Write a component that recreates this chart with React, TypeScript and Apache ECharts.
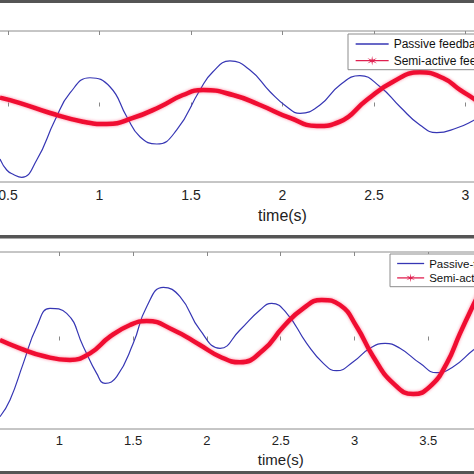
import React, { useEffect, useRef } from "react";
import * as echarts from "echarts";

// Top panel (time in s, response in normalised units)
const topPassiveT = [0.456, 0.493, 0.53, 0.575, 0.657, 0.757, 0.839, 0.948, 1.057, 1.149, 1.221, 1.313, 1.422, 1.549, 1.62, 1.713, 1.822, 1.932, 2.023, 2.096, 2.205, 2.314, 2.423, 2.533, 2.642, 2.751, 2.843, 2.952, 3.041, 3.1];
const topPassiveV = [-0.695, -0.841, -0.9, -0.938, -0.709, -0.179, 0.179, 0.381, 0.262, -0.135, -0.4, -0.497, -0.311, 0.219, 0.461, 0.603, 0.483, 0.196, -0.003, -0.09, 0.02, 0.285, 0.408, 0.262, -0.003, -0.245, -0.347, -0.285, -0.188, -0.1];
const topSemiT = [0.456, 0.566, 0.73, 0.91, 1.039, 1.183, 1.331, 1.456, 1.566, 1.73, 1.877, 2.041, 2.187, 2.314, 2.46, 2.604, 2.751, 2.877, 2.97, 3.041, 3.1];
const topSemiV = [0.117, 0.046, -0.086, -0.201, -0.232, -0.152, -0.003, 0.152, 0.219, 0.152, 0.02, -0.152, -0.258, -0.201, 0.086, 0.328, 0.453, 0.377, 0.219, 0.109, 0.0];

// Bottom panel
const botPassiveT = [0.598, 0.666, 0.756, 0.847, 0.937, 1.05, 1.163, 1.253, 1.31, 1.389, 1.501, 1.592, 1.705, 1.818, 1.953, 2.089, 2.224, 2.36, 2.439, 2.541, 2.676, 2.789, 2.879, 2.992, 3.105, 3.207, 3.308, 3.444, 3.557, 3.669, 3.805, 3.9];
const botPassiveV = [-0.861, -0.672, -0.258, 0.156, 0.364, 0.307, -0.07, -0.371, -0.484, -0.409, -0.032, 0.382, 0.601, 0.495, 0.119, -0.088, 0.119, 0.345, 0.42, 0.307, -0.032, -0.258, -0.341, -0.24, -0.088, -0.032, -0.088, -0.258, -0.364, -0.296, -0.107, 0.0];
const botSemiT = [0.598, 0.734, 0.892, 1.072, 1.208, 1.343, 1.479, 1.592, 1.772, 1.953, 2.089, 2.224, 2.382, 2.518, 2.653, 2.778, 2.902, 3.015, 3.127, 3.263, 3.398, 3.511, 3.625, 3.715, 3.805, 3.85];
const botSemiV = [0.006, -0.088, -0.175, -0.22, -0.145, 0.043, 0.175, 0.22, 0.119, -0.051, -0.183, -0.246, -0.107, 0.156, 0.364, 0.458, 0.401, 0.156, -0.183, -0.484, -0.605, -0.522, -0.258, 0.081, 0.401, 0.55];

const topLegendNames = ["Passive feedback", "Semi-active feedback"];
const botLegendNames = ["Passive-feedback", "Semi-active-feedback"];
const xLabel = "time(s)";

const pairs = (t: number[], v: number[]) => t.map((x, i) => [x, v[i]]);

const STAR =
  "path://M5,0 L5.6,3.9 L9.3,2.2 L6.3,5 L9.3,7.8 L5.6,6.1 L5,10 L4.4,6.1 L0.7,7.8 L3.7,5 L0.7,2.2 L4.4,3.9 Z";

const BLUE = "#3636b4";
const RED = "#f01030";
const LEG_RED = "#e02050";

export default function App() {
  const ref = useRef<HTMLDivElement>(null);
  useEffect(() => {
    if (!ref.current) return;
    const chart = echarts.init(ref.current, null, { renderer: "svg" });
    const font = "Liberation Sans, Arial, sans-serif";
    const xAxisBase = (gridIndex: number, max: number, labelSize: number, labelMargin: number, nameSize: number, nameGap: number) => [
      {
        type: "value",
        gridIndex,
        position: "bottom",
        min: 0,
        max,
        interval: 0.5,
        axisLine: { show: false },
        axisTick: { show: true, inside: true, length: 4, lineStyle: { color: "#888" } },
        axisLabel: { show: true, fontSize: labelSize, color: "#222", fontFamily: font, margin: labelMargin },
        splitLine: { show: false },
        name: xLabel,
        nameLocation: "middle",
        nameGap,
        nameTextStyle: { fontSize: nameSize, color: "#222", fontFamily: font },
      },
      {
        type: "value",
        gridIndex,
        position: "top",
        min: 0,
        max,
        interval: 0.5,
        axisLine: { show: false },
        axisTick: { show: true, inside: true, length: 4, lineStyle: { color: "#888" } },
        axisLabel: { show: false },
        splitLine: { show: false },
      },
    ];
    const legendBase = {
      orient: "vertical",
      borderColor: "#8c8c8c",
      borderWidth: 1,
      borderRadius: 0,
      backgroundColor: "#fff",
    };
    const option: any = {
      animation: false,
      backgroundColor: "#fff",
      grid: [
        { left: -83.5, top: 31, width: 732, height: 151, show: true, borderColor: "#8c8c8c", borderWidth: 1, backgroundColor: "#fff", outerBoundsMode: "none", containLabel: false },
        { left: -88.3, top: 252, width: 738, height: 177, show: true, borderColor: "#8c8c8c", borderWidth: 1, backgroundColor: "#fff", outerBoundsMode: "none", containLabel: false },
      ],
      xAxis: [...xAxisBase(0, 4, 14, 6, 16, 25), ...xAxisBase(1, 5, 13, 5, 15, 23)],
      yAxis: [
        { type: "value", gridIndex: 0, min: -1, max: 1, show: false },
        { type: "value", gridIndex: 1, min: -1, max: 1, show: false },
      ],
      legend: [
        {
          ...legendBase,
          data: [
            { name: topLegendNames[0], itemStyle: { color: "rgba(0,0,0,0)", borderWidth: 0 }, lineStyle: { width: 1.3 } },
            { name: topLegendNames[1], itemStyle: { color: LEG_RED }, lineStyle: { width: 1.3, color: LEG_RED, shadowBlur: 0 } },
          ],
          left: 348,
          top: 34,
          padding: [4, 8, 3, 7],
          itemGap: 4.7,
          itemWidth: 33,
          itemHeight: 12,
          textStyle: { fontSize: 12, color: "#111", fontFamily: font },
        },
        {
          ...legendBase,
          data: [
            { name: botLegendNames[0], itemStyle: { color: "rgba(0,0,0,0)", borderWidth: 0 }, lineStyle: { width: 1.3 } },
            { name: botLegendNames[1], itemStyle: { color: LEG_RED }, lineStyle: { width: 1.3, color: LEG_RED, shadowBlur: 0 } },
          ],
          left: 390,
          top: 254,
          padding: [3.5, 8, 2.8, 6.5],
          itemGap: 2.4,
          itemWidth: 27,
          itemHeight: 11,
          textStyle: { fontSize: 11.5, color: "#111", fontFamily: font },
        },
      ],
      series: [
        {
          name: topLegendNames[0],
          type: "line",
          xAxisIndex: 0,
          yAxisIndex: 0,
          data: pairs(topPassiveT, topPassiveV),
          smooth: 0.5,
          symbol: "none",
          lineStyle: { color: BLUE, width: 1.2 },
          itemStyle: { color: BLUE },
        },
        {
          name: topLegendNames[1],
          type: "line",
          xAxisIndex: 0,
          yAxisIndex: 0,
          data: pairs(topSemiT, topSemiV),
          smooth: 0.5,
          symbol: STAR,
          symbolSize: 7,
          showSymbol: false,
          lineStyle: { color: RED, width: 4.5, shadowColor: "rgba(255,40,80,0.6)", shadowBlur: 3 },
          itemStyle: { color: RED },
        },
        {
          name: botLegendNames[0],
          type: "line",
          xAxisIndex: 2,
          yAxisIndex: 1,
          data: pairs(botPassiveT, botPassiveV),
          smooth: 0.5,
          symbol: "none",
          lineStyle: { color: BLUE, width: 1.2 },
          itemStyle: { color: BLUE },
        },
        {
          name: botLegendNames[1],
          type: "line",
          xAxisIndex: 2,
          yAxisIndex: 1,
          data: pairs(botSemiT, botSemiV),
          smooth: 0.5,
          symbol: STAR,
          symbolSize: 7,
          showSymbol: false,
          lineStyle: { color: RED, width: 4.5, shadowColor: "rgba(255,40,80,0.6)", shadowBlur: 3 },
          itemStyle: { color: RED },
        },
      ],
      graphic: [
        { type: "rect", left: 0, top: 0, shape: { width: 474, height: 3 }, style: { fill: "#555" }, z: 100 },
        { type: "rect", left: 0, top: 235, shape: { width: 474, height: 3.5 }, style: { fill: "#555" }, z: 100 },
        { type: "rect", left: 0, top: 471, shape: { width: 474, height: 3 }, style: { fill: "#555" }, z: 100 },
      ],
    };
    chart.setOption(option);
    return () => chart.dispose();
  }, []);
  return <div ref={ref} style={{ position: "fixed", left: 0, top: 0, width: 474, height: 474 }} />;
}
